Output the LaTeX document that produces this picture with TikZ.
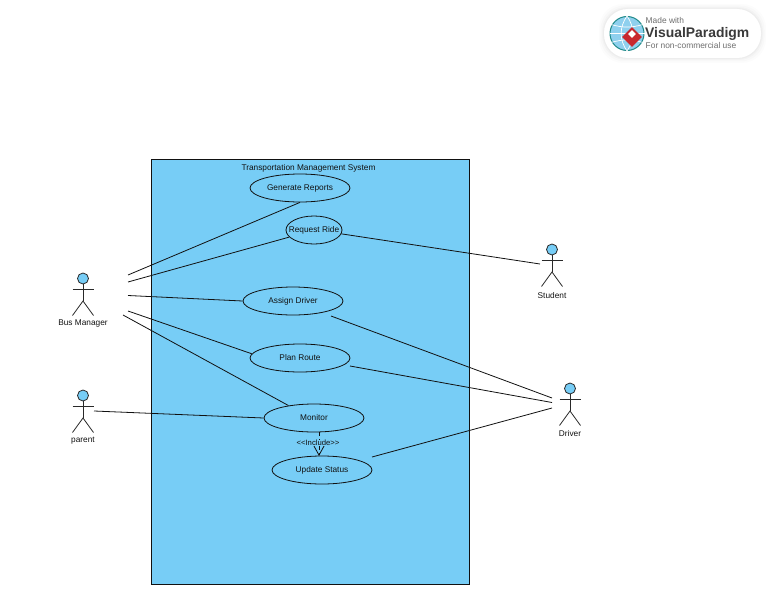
\documentclass[tikz,border=0pt]{standalone}
\usepackage{fontspec}
\setmainfont{Liberation Sans}
\usetikzlibrary{arrows.meta,shapes.geometric}
\definecolor{sysblue}{HTML}{77CDF6}
\definecolor{ink}{HTML}{111111}
\definecolor{logogray}{HTML}{6E6E6E}
\definecolor{logodark}{HTML}{3A3A3A}
\definecolor{logored}{HTML}{C8282E}
\definecolor{globeblue}{HTML}{8FD0EE}
\tikzset{
  usecase/.style={draw=ink,line width=0.8pt,ellipse,inner sep=0pt,minimum width=100pt,minimum height=28pt,font=\fontsize{8.3}{10}\selectfont,text=ink},
  link/.style={draw=ink,line width=0.8pt},
  actorpart/.style={draw=ink!90,line width=0.8pt},
  actorhead/.style={draw=ink!90,line width=0.8pt,fill=sysblue,circle,inner sep=0pt,minimum size=11pt},
  actorname/.style={font=\fontsize{8.3}{10}\selectfont,text=ink,inner sep=0pt},
  logotext/.style={inner sep=0pt,anchor=west},
  pics/actor/.style={code={
    \node[actorhead] (-head) at (0,0) {};
    \draw[actorpart] (-head.south) -- (0,22.5);
    \draw[actorpart] (-10.5,11) -- (10.5,11);
    \draw[actorpart] (-10.5,37) -- (0,22.5) -- (10.5,37);
  }}
}
\begin{document}
\begin{tikzpicture}[x=1pt,y=-1pt]
\useasboundingbox (0,0) rectangle (768,594);
% logo
\foreach \g/\o in {5/0.012,3.5/0.016,2/0.02,1/0.025}
  \fill[black,opacity=\o,rounded corners=24pt] (604-\g,9-\g) rectangle (761+\g,58+\g);
\node[draw=none,fill=white,rounded corners=24pt,minimum width=157pt,minimum height=49pt,inner sep=0pt] (logo) at (682.5,33.5) {};
\node[circle,draw=logogray!40!cyan!70!black,line width=1pt,fill=globeblue,minimum size=34pt,inner sep=0pt] (globe) at (627,33.5) {};
\draw[white,line width=0.7pt] (globe.north) to[bend right=35] (globe.south);
\draw[white,line width=0.7pt] (globe.north) to[bend left=35] (globe.south);
\draw[white,line width=0.7pt] (globe.west) -- (globe.east);
\draw[white,line width=0.7pt] (globe.150) to[bend right=15] (globe.30);
\draw[white,line width=0.7pt] (globe.210) to[bend left=15] (globe.330);
\node[diamond,fill=logored,minimum size=20pt,inner sep=0pt] (mark) at (632,37) {};
\node[diamond,fill=white,minimum size=8pt,inner sep=0pt] (markin) at (632,34) {};
\node[logotext,text=logogray,font=\fontsize{8.4}{10}\selectfont] (made) at (645.5,20.5) {Made with};
\node[logotext,text=logodark,font=\fontsize{13.9}{15}\selectfont\bfseries] (vp) at (645,33.5) {VisualParadigm};
\node[logotext,text=logogray,font=\fontsize{8.4}{10}\selectfont] (nc) at (645.5,45.5) {For non-commercial use};
% system
\node[draw=ink,line width=0.8pt,fill=sysblue,minimum width=317.5pt,minimum height=425pt,inner sep=0pt] (sys) at (310.25,372) {};
\node[actorname] (title) at (308.5,168.5) {Transportation Management System};
% use cases
\node[usecase] (gr) at (300,188) {Generate Reports};
\node[usecase,inner xsep=-5.5pt,minimum width=56pt] (rr) at (314,230) {Request Ride};
\node[usecase] (ad) at (293,301) {Assign Driver};
\node[usecase] (pr) at (300,358) {Plan Route};
\node[usecase] (mo) at (314,418) {Monitor};
\node[usecase] (us) at (322,470) {Update Status};
% actors
\pic (bm) at (83,278.5) {actor};
\node[actorname] (bmname) at (83,324) {Bus Manager};
\pic (pa) at (83,395.5) {actor};
\node[actorname] (paname) at (83,441) {parent};
\pic (st) at (552,249.5) {actor};
\node[actorname] (stname) at (552,295.5) {Student};
\pic (dr) at (570,388.5) {actor};
\node[actorname] (drname) at (570,434) {Driver};
% connector ends
\coordinate (bm1) at (128,275);
\coordinate (bm2) at (128,282);
\coordinate (bm3) at (128,295.5);
\coordinate (bm4) at (128,311);
\coordinate (bm5) at (123,315);
\coordinate (pa1) at (94,411);
\coordinate (st1) at (540,264);
\coordinate (dr1) at (552,398);
\coordinate (dr2) at (552,402.5);
\coordinate (dr3) at (552,408);
\coordinate (adout) at (331,316);
\coordinate (prout) at (350,366);
\coordinate (usout) at (372,457);
% connectors
\draw[link] (bm1) -- (gr.south);
\draw[link] (bm2) -- (rr.196);
\draw[link] (bm3) -- (ad.west);
\draw[link] (bm4) -- (pr.175);
\draw[link] (bm5) -- (mo.154);
\draw[link] (pa1) -- (mo.west);
\draw[link] (rr.-8) -- (st1);
\draw[link] (adout) -- (dr1);
\draw[link] (prout) -- (dr2);
\draw[link] (usout) -- (dr3);
\coordinate (incfrom) at (319,432);
\coordinate (incto) at (319,456);
\draw[link,dash pattern=on 4pt off 3pt,-{Straight Barb[length=10pt,width=11pt]}] (incfrom) -- (incto);
\node[inner sep=0pt,text=ink,font=\fontsize{7.7}{9}\selectfont,fill=sysblue] (inc) at (318,443) {<{}<Include>{}>};
\end{tikzpicture}
\end{document}
